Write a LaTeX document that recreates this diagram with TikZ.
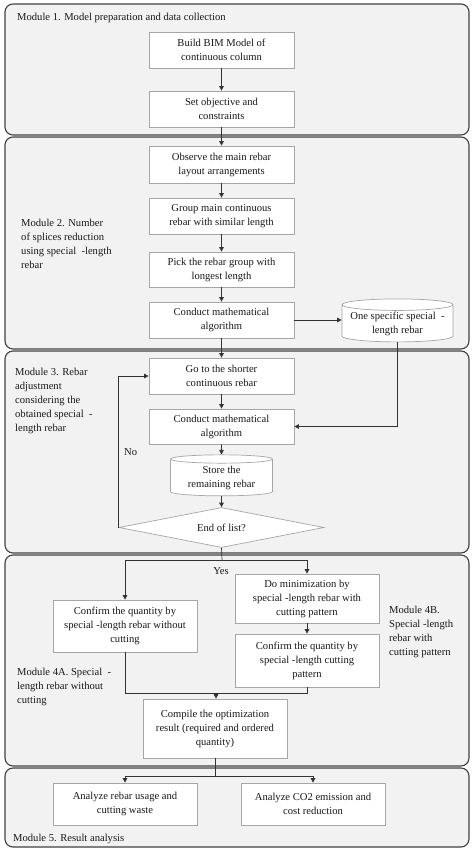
\documentclass[tikz,border=0pt]{standalone}
\usepackage{fontspec}
\setmainfont{Liberation Serif}
\usetikzlibrary{shapes.geometric, positioning, arrows.meta}

\tikzset{
  module/.style={draw=black!75, fill=black!5, line width=1.1pt, rounded corners=8pt},
  stepbox/.style={draw=black!35, fill=white, line width=0.7pt, minimum width=145pt,
    align=center, inner sep=1pt, font=\fontsize{10.6}{14}\selectfont},
  store/.style={cylinder, shape border rotate=90, shape aspect=0.12, draw=black!35,
    fill=white, line width=0.7pt, align=center, inner sep=1pt, font=\fontsize{10.6}{14}\selectfont},
  decide/.style={diamond, aspect=5, draw=black!35, fill=white, line width=0.7pt,
    minimum width=205pt, minimum height=40pt, inner sep=0pt, font=\fontsize{10.6}{14}\selectfont},
  modtext/.style={align=left, anchor=north west, inner sep=0pt, font=\fontsize{10.6}{14}\selectfont},
  link/.style={draw=black!80, line width=0.7pt, -{Triangle[length=4.5pt,width=4.5pt]}},
  wire/.style={draw=black!80, line width=0.7pt}
}

\begin{document}
\begin{tikzpicture}[x=1pt, y=-1pt, on grid, every node/.style={text=black!90}]
    \useasboundingbox (0,0) rectangle (474,852);
    % module frames
    \draw[module] (5,4)   rectangle (469,135);
    \draw[module] (5,137) rectangle (469,349);
    \draw[module] (5,351) rectangle (469,553);
    \draw[module] (5,555) rectangle (469,766);
    \draw[module] (5,768) rectangle (469,847);

    \node[modtext] (m1)  at (17,13)  {Module 1. Model preparation and data collection};
    \node[modtext] (m2)  at (21,219) {Module 2. Number\\of splices reduction\\using special~ -length\\rebar};
    \node[modtext] (m3)  at (15,368) {Module 3. Rebar\\adjustment\\considering the\\obtained special~ -\\length rebar};
    \node[modtext] (m4b) at (389,606){Module 4B.\\Special -length\\rebar with\\cutting pattern};
    \node[modtext] (m4a) at (17,668) {Module 4A. Special~ -\\length rebar without\\cutting};
    \node[modtext] (m5)  at (13,834) {Module 5. Result analysis};

    % steps
    \node[stepbox, minimum height=36pt] (bim)  at (221.5,50) {Build BIM Model of\\continuous column};
    \node[stepbox, minimum height=36pt] (goal) [below=59pt of bim]   {Set objective and\\constraints};
    \node[stepbox, minimum height=37pt] (obs)  [below=55.5pt of goal] {Observe the main rebar\\layout arrangements};
    \node[stepbox, minimum height=36pt] (grp)  [below=51.5pt of obs]  {Group main continuous\\rebar with similar length};
    \node[stepbox, minimum height=35pt] (pick) [below=53.5pt of grp]  {Pick the rebar group with\\longest length};
    \node[stepbox, minimum height=36pt] (alg1) [below=50.5pt of pick] {Conduct mathematical\\algorithm};
    \node[store, minimum width=111pt, minimum height=43pt] (one) [right=176pt of alg1, yshift=-4pt] {One specific special~ -\\length rebar};
    \node[stepbox, minimum height=36pt] (short) [below=56pt of alg1]  {Go to the shorter\\continuous rebar};
    \node[stepbox, minimum height=35pt] (alg2)  [below=50.5pt of short] {Conduct mathematical\\algorithm};
    \node[store, minimum width=102pt, minimum height=41pt] (rem) [below=48pt of alg2, yshift=-3.5pt] {Store the\\remaining rebar};
    \node[decide] (end) [below=51.5pt of rem, yshift=2pt] {End of list?};

    \node[stepbox, minimum width=144pt, minimum height=52pt] (conf)  at (125,626)   {Confirm the quantity by\\special -length rebar without\\cutting};
    \node[stepbox, minimum width=144pt, minimum height=49pt] (mini)  at (307,598.5) {Do minimization by\\special -length rebar with\\cutting pattern};
    \node[stepbox, minimum width=144pt, minimum height=53pt] (confp) [below=62pt of mini] {Confirm the quantity by\\special -length cutting\\pattern};
    \node[stepbox, minimum width=144pt, minimum height=59pt] (comp)  at (215,728.5) {Compile the optimization\\result (required and ordered\\quantity)};
    \node[stepbox, minimum width=144pt, minimum height=42pt] (use)   at (125,804)   {Analyze rebar usage and\\cutting waste};
    \node[stepbox, minimum width=144pt, minimum height=42pt] (co2)   at (313,804)   {Analyze CO2 emission and\\cost reduction};

    \coordinate (split) at (222,560);
    \coordinate (merge) at (216,693);
    \coordinate (fork)  at (215,776);

    % connectors
    \path[link] (bim) -- (goal);
    \path[link] (goal) -- (obs);
    \path[link] (obs) -- (grp);
    \path[link] (grp) -- (pick);
    \path[link] (pick) -- (alg1);
    \path[link] (alg1) -- (alg1 -| one.west);
    \path[link] (alg1) -- (short);
    \path[link] (short) -- (alg2);
    \path[link] (one.south) |- (alg2.east);
    \path[link] (alg2) -- (rem);
    \path[link] (rem) -- (end);
    \path[link] (end.west) |- (short.west)
        node[pos=0.25, anchor=center, xshift=12pt, font=\fontsize{10.6}{14}\selectfont] (no) {No};
    \path[wire] (end.south) -- (split);
    \path[link] (split) -| (conf.north);
    \path[link] (split) -| (mini.north);
    \node[font=\fontsize{10.6}{14}\selectfont] (yes) at (221,571) {Yes};
    \path[link] (mini) -- (confp);
    \path[wire] (conf.south) |- (merge);
    \path[wire] (confp.south) |- (merge);
    \path[link] (merge) -- (merge |- comp.north);
    \path[wire] (comp.south) -- (fork);
    \path[link] (fork) -| (use.north);
    \path[link] (fork) -| (co2.north);
\end{tikzpicture}
\end{document}
